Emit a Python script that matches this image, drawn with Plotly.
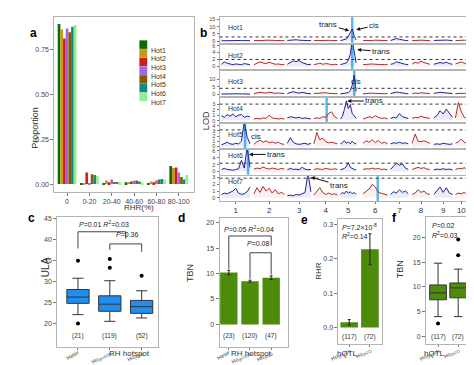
import plotly.graph_objects as go
import numpy as np

W, H = 474, 365
def PX(x): return x / W
def PY(y): return 1 - y / H
FONT = "Arial, 'Liberation Sans', sans-serif"

# ---------------- data ----------------
# panel a
rhr_bins = ["0", "0-20", "20-40", "40-60", "60-80", "80-100"]
hot_names = ["Hot1", "Hot2", "Hot3", "Hot4", "Hot5", "Hot6", "Hot7"]
hot_colors = ["#0a6b0a", "#c9960c", "#cc2020", "#9b6ae8", "#8b5a00", "#0f8a8a", "#8ef08e"]
prop_hot1 = [0.890, 0.004, 0.004, 0.010, 0.005, 0.100]
prop_hot2 = [0.860, 0.004, 0.020, 0.012, 0.015, 0.090]
prop_hot3 = [0.810, 0.065, 0.010, 0.015, 0.010, 0.092]
prop_hot4 = [0.865, 0.003, 0.025, 0.018, 0.020, 0.065]
prop_hot5 = [0.845, 0.055, 0.012, 0.020, 0.025, 0.040]
prop_hot6 = [0.875, 0.050, 0.012, 0.015, 0.028, 0.025]
prop_hot7 = [0.885, 0.045, 0.010, 0.010, 0.025, 0.050]
prop_all = [prop_hot1, prop_hot2, prop_hot3, prop_hot4, prop_hot5, prop_hot6, prop_hot7]

# panel b (map positions per chromosome, LOD profiles)
chrom_labels = ["1", "2", "3", "4", "5", "6", "7", "8", "9", "10"]
chrom_start = [2, 35, 69, 96, 123, 146, 174, 196, 218, 240]
chrom_end = [31, 66, 93, 120, 139, 171, 192, 214, 237, 252]
lod_hot1 = [[0.4,0.5,0.4,0.6,0.5,0.4,0.5,0.6,0.5,0.7,0.5],
            [0.5,0.7,0.9,0.6,0.8,1.0,0.7,0.6,0.8,0.6,0.5],
            [0.6,0.9,1.3,1.1,0.8,0.6,0.7,0.5,0.6],
            [0.5,0.6,0.8,0.6,0.9,0.7,0.6,0.8,0.5],
            [0.5,0.7,1.0,1.6,3.2,5.5,8.5,3.5,1.0],
            [0.6,0.5,0.7,0.6,0.8,0.6,0.5,0.6,0.5],
            [0.6,1.3,1.9,1.4,0.8,0.6,0.5],
            [0.5,0.7,0.6,0.8,0.7,0.6,0.5],
            [0.6,0.8,1.1,0.8,0.9,0.6,0.5],
            [0.5,0.7,0.6,0.8,0.5]]
lod_hot2 = [[0.6,1.3,0.9,0.6,0.5,0.7,0.6,0.5,0.8,0.6,0.5],
            [0.5,0.9,1.3,1.0,0.8,1.2,0.9,0.6,0.7,0.5,0.6],
            [0.6,1.0,1.6,1.4,1.7,1.1,0.7,0.5,0.6],
            [0.5,0.7,0.9,0.6,0.8,0.7,0.5,0.6,0.5],
            [0.5,0.6,0.8,1.0,1.8,3.5,7.5,4.0,1.0],
            [0.5,0.6,0.5,0.7,0.6,0.5,0.6,0.5,0.6],
            [0.6,0.8,1.3,1.0,0.7,0.6,0.5],
            [0.7,1.2,0.9,1.5,1.1,0.8,0.6],
            [0.6,0.8,1.1,0.9,1.2,0.8,0.6],
            [0.7,1.0,1.3,0.9,0.6]]
lod_hot3 = [[0.3,0.4,0.5,0.4,0.3,0.4,0.5,0.4,0.3,0.4,0.3],
            [0.6,1.0,1.4,1.2,0.9,1.5,1.1,0.8,1.0,0.7,0.6],
            [0.7,1.2,1.8,1.3,0.9,1.4,0.8,0.6,0.5],
            [0.6,0.8,1.1,0.9,1.2,0.8,0.6,0.7,0.5],
            [0.4,0.5,0.6,0.8,1.2,2.5,6.0,12.5,2.0],
            [0.5,0.7,0.6,0.9,0.7,0.5,0.6,0.5,0.6],
            [0.6,1.1,1.6,1.3,0.9,0.7,0.6],
            [0.6,0.9,0.7,1.1,0.9,0.7,0.6],
            [0.7,1.0,1.4,1.2,0.9,0.8,0.6],
            [0.6,0.8,1.0,0.8,0.6]]
lod_hot4 = [[0.9,0.6,1.1,0.8,1.2,0.7,1.0,1.1,0.6,0.8,0.7],
            [0.3,0.4,0.3,0.5,0.4,1.0,0.5,0.4,0.3,0.4,0.3],
            [0.5,0.7,0.6,0.5,0.6,0.4,0.5,0.4,0.3],
            [0.4,0.5,0.4,0.7,0.6,1.3,1.6,0.7,0.4],
            [0.3,0.8,2.0,3.6,2.2,2.9,1.3,0.9,0.4],
            [0.3,0.5,0.7,0.5,0.9,0.6,0.4,0.5,0.3],
            [0.4,0.6,0.5,1.3,0.7,0.5,0.4],
            [0.4,0.6,0.5,0.8,0.6,0.5,0.4],
            [0.5,0.9,1.8,1.2,2.1,1.4,0.6],
            [0.5,3.3,1.6,0.6,0.4]]
lod_hot5 = [[0.3,0.5,0.8,0.5,0.4,0.6,0.5,1.0,4.8,1.8,0.5],
            [0.4,0.9,1.2,0.8,1.1,0.7,0.9,0.6,0.8,0.5,0.4],
            [0.6,1.7,0.8,0.5,0.4,0.5,0.6,0.4,0.6],
            [0.5,2.7,1.3,1.6,0.9,0.7,0.8,0.6,0.5],
            [0.5,0.7,1.1,0.6,0.9,0.5,1.0,0.6,0.5],
            [0.6,1.1,0.8,1.3,0.7,1.2,0.6,0.8,0.5],
            [0.5,0.7,0.6,0.8,0.6,0.7,0.5],
            [0.6,2.4,1.0,0.9,1.1,0.8,0.6],
            [0.4,0.5,0.4,0.6,0.5,0.4,0.5],
            [0.6,0.9,1.4,0.8,0.6]]
lod_hot6 = [[0.6,0.9,0.6,0.5,0.4,0.6,0.8,3.2,1.0,7.0,1.2],
            [0.7,1.0,0.8,1.3,0.9,0.7,1.0,0.8,0.6,0.9,0.7],
            [0.5,0.9,0.6,0.7,0.5,1.2,0.7,0.5,0.6],
            [0.6,0.8,0.7,0.6,0.9,0.7,0.6,0.8,0.6],
            [0.5,0.7,0.9,1.4,2.6,1.2,0.8,0.6,0.5],
            [0.6,0.8,0.7,1.0,0.7,0.9,0.6,0.7,0.5],
            [0.6,1.4,2.4,1.8,2.2,1.0,0.6],
            [0.6,0.8,1.2,0.9,1.1,0.7,0.6],
            [0.5,0.7,0.6,0.8,0.6,0.7,0.5],
            [0.6,0.9,0.8,1.1,0.7]]
lod_hot7 = [[0.5,0.7,0.6,0.8,1.0,1.4,0.7,0.5,0.6,0.9,1.6],
            [0.6,1.5,0.8,1.7,1.0,1.4,0.7,1.2,0.6,0.8,0.5],
            [0.3,0.4,0.3,0.5,0.4,0.6,0.8,3.6,0.9],
            [0.4,1.0,1.5,0.8,0.5,0.7,0.5,0.6,0.4],
            [0.5,0.8,0.6,1.0,0.7,0.9,0.6,0.8,0.5],
            [0.6,1.0,1.3,2.0,1.6,0.8,0.7,0.5,0.4],
            [0.5,0.9,0.7,1.2,0.8,1.0,0.6],
            [0.5,0.7,1.2,0.8,1.0,0.6,0.5],
            [0.5,1.0,1.6,0.8,1.5,0.7,0.5],
            [0.5,0.7,0.6,0.8,0.5]]
lod_all = [lod_hot1, lod_hot2, lod_hot3, lod_hot4, lod_hot5, lod_hot6, lod_hot7]
lod_thresh = [3.0, 2.0, 4.0, 3.0, 3.2, 2.4, 2.9]
hot_peak_pos = [135, 135, 137, 109, 26, 29, 161]
hot_strip = ["bin5.04", "bin5.04", "bin5.04", "bin4.05", "bin1.09", "bin1.10", "bin6.05"]
lod_ticks = [[0, 5, 10, 15], [0, 2, 4, 6], [0, 5, 10], [0, 1, 2, 3], [0, 1, 2, 3, 4], [0, 2, 4, 6], [0, 1, 2, 3]]

# panel c
rh_groups = ["Heter", "Ho<sub>(BY815)</sub>", "Ho<sub>(K22)</sub>"]
ula_q1 = [24.8, 22.9, 22.4]
ula_med = [26.3, 24.6, 24.0]
ula_q3 = [28.1, 26.6, 25.5]
ula_lo = [22.1, 20.5, 21.3]
ula_hi = [30.8, 30.2, 27.8]
ula_out_grp = [0, 0, 1, 1, 2]
ula_out_val = [35.0, 20.0, 33.3, 35.4, 31.4]
ula_n = ["(21)", "(119)", "(52)"]

# panel d
tbn_rh_mean = [10.2, 8.5, 9.2]
tbn_rh_err = [0.45, 0.2, 0.35]
tbn_rh_n = ["(23)", "(120)", "(47)"]

# panel e
hqtl_groups = ["Ho<sub>(BY815)</sub>", "Ho<sub>(K22)</sub>"]
rhr_mean = [0.015, 0.228]
rhr_err = [0.008, 0.045]
hqtl_n = ["(117)", "(72)"]

# panel f
tbn_q1 = [7.4, 7.8]
tbn_med = [8.8, 9.8]
tbn_q3 = [10.4, 10.8]
tbn_lo = [4.0, 4.0]
tbn_hi = [14.8, 13.6]
tbn_out_grp = [0, 1, 1]
tbn_out_val = [2.6, 16.4, 19.6]

# ---------------- figure ----------------
fig = go.Figure()
layout = {}
annotations = []
shapes = []

def axstyle(**kw):
    d = dict(showline=True, mirror=True, linecolor="#b4b4b4", linewidth=1,
             ticks="outside", ticklen=3, tickcolor="#777", tickwidth=1,
             tickfont=dict(size=7, color="#444", family=FONT),
             showgrid=False, zeroline=False, fixedrange=True)
    d.update(kw)
    return d

def text(x, y, s, size=7, color="#333", **kw):
    a = dict(x=PX(x), y=PY(y), xref="paper", yref="paper", text=s, showarrow=False,
             font=dict(size=size, color=color, family=FONT))
    a.update(kw)
    annotations.append(a)

SMALL_TICK = dict(size=5.5, color="#444", family=FONT)
ROT = dict(tickangle=-30, ticklen=2, tickfont=SMALL_TICK, ticklabelstandoff=-3)

# ---- panel a ----
for name, col, vals in zip(hot_names, hot_colors, prop_all):
    fig.add_trace(go.Bar(x=rhr_bins, y=vals, name=name, marker=dict(color=col, line=dict(width=0)),
                         xaxis="x", yaxis="y", showlegend=False))
layout["xaxis"] = axstyle(domain=[PX(39), PX(181)], anchor="y", type="category", range=[-0.57, 5.68])
layout["yaxis"] = axstyle(domain=[PY(184), PY(7)], anchor="x", range=[-0.044, 0.93],
                          tickvals=[0, 0.25, 0.5, 0.75], ticktext=["0.00", "0.25", "0.50", "0.75"])
for i, (name, col) in enumerate(zip(hot_names, hot_colors)):
    yc = 35 + i * 8.8
    shapes.append(dict(type="rect", xref="paper", yref="paper", x0=PX(125.5), x1=PX(133.5),
                       y0=PY(yc + 4.3), y1=PY(yc - 4.3), fillcolor=col, line=dict(width=0)))
    text(135, yc, name, size=7, xanchor="left")
text(12, 96, "Proportion", size=9, textangle=-90)
text(108, 200, "RHR(%)", size=8)
text(12, 14, "<b>a</b>", size=12, color="black")

# ---- panel b ----
b_dom = [(7, 33), (35, 60), (61.5, 87), (88.5, 113.5), (115, 140), (141.5, 166.5), (168, 193)]
b_range = [(-0.87, 16.6), (-0.86, 6.3), (-1, 15.3), (-0.3, 4.2), (-0.4, 4.4), (-0.9, 6.2), (-0.45, 3.2)]
chrom_center = [(s + e) / 2 for s, e in zip(chrom_start, chrom_end)]
for h in range(7):
    k = h + 2
    xa, ya = f"x{k}", f"y{k}"
    shapes.append(dict(type="line", xref=xa, yref=f"{ya} domain", x0=hot_peak_pos[h], x1=hot_peak_pos[h],
                       y0=0, y1=1, line=dict(color="#55bdf2", width=2.5), layer="below"))
    for c in range(10):
        vals = lod_all[h][c]
        pos = np.linspace(chrom_start[c], chrom_end[c], len(vals))
        blue = (c % 2 == 0)
        fig.add_trace(go.Scatter(x=pos, y=vals, mode="lines",
                                 line=dict(color="#22229a" if blue else "#b22a2a", width=1),
                                 fill="tozeroy",
                                 fillcolor="rgba(60,60,200,0.10)" if blue else "rgba(200,60,60,0.08)",
                                 xaxis=xa, yaxis=ya, showlegend=False, hoverinfo="skip"))
    shapes.append(dict(type="line", xref=f"{xa} domain", yref=ya, x0=0, x1=1,
                       y0=lod_thresh[h], y1=lod_thresh[h], line=dict(color="#333", width=1, dash="dot")))
    last = (h == 6)
    if last:
        layout[f"xaxis{k}"] = axstyle(domain=[PX(207), PX(462)], anchor=ya, range=[0, 255],
                                      tickvals=chrom_center, ticktext=chrom_labels, ticklen=2,
                                      tickfont=dict(size=8, color="#333", family=FONT))
    else:
        layout[f"xaxis{k}"] = axstyle(domain=[PX(207), PX(462)], anchor=ya, range=[0, 255],
                                      showticklabels=False, ticks="")
    layout[f"yaxis{k}"] = axstyle(domain=[PY(b_dom[h][1]), PY(b_dom[h][0])], anchor=xa,
                                  range=list(b_range[h]), tickvals=lod_ticks[h], ticklen=2,
                                  tickfont=dict(size=5.5, color="#444", family=FONT))
    text(214, b_dom[h][0] + 5.5, hot_names[h], size=7, color="#333", xanchor="left")
    shapes.append(dict(type="rect", xref="paper", yref="paper", x0=PX(462.5), x1=PX(471),
                       y0=PY(b_dom[h][1]), y1=PY(b_dom[h][0]), fillcolor="#cdcdcd", line=dict(width=0)))
    text(466.8, (b_dom[h][0] + b_dom[h][1]) / 2, hot_strip[h], size=5, color="#555", textangle=90)

arrows = [("trans", 318, 15, 339, 21), ("cis", 364, 16, 346, 20), ("trans", 371, 42, 347, 40),
          ("trans", 364, 92, 337, 92), ("trans", 264, 146, 237, 146), ("trans", 328, 177, 300, 169)]
for s, tx, ty, hx, hy in arrows:
    annotations.append(dict(x=PX(hx), y=PY(hy), xref="paper", yref="paper", text=s, showarrow=True,
                            ax=tx - hx, ay=ty - hy, arrowhead=2, arrowsize=0.8, arrowwidth=1,
                            arrowcolor="#111", font=dict(size=8, color="#222", family=FONT)))
text(353, 66, "cis", size=8, color="#222")
text(244, 121, "cis", size=8, color="#222")
text(194, 100, "LOD", size=9, textangle=-90)
text(191, 14, "<b>b</b>", size=12, color="black")

# ---- panel c ----
fig.add_trace(go.Box(x=rh_groups, q1=ula_q1, median=ula_med, q3=ula_q3, lowerfence=ula_lo,
                     upperfence=ula_hi, fillcolor="#1e8ff0", line=dict(color="#333", width=1),
                     width=0.7, boxpoints=False, xaxis="x9", yaxis="y9", showlegend=False))
fig.add_trace(go.Scatter(x=[rh_groups[g] for g in ula_out_grp], y=ula_out_val, mode="markers",
                         marker=dict(color="black", size=4), xaxis="x9", yaxis="y9", showlegend=False))
layout["xaxis9"] = axstyle(domain=[PX(42), PX(144)], anchor="y9", type="category",
                           range=[-0.65, 2.5], **ROT)
layout["yaxis9"] = axstyle(domain=[PY(341), PY(209)], anchor="x9", range=[14.3, 45.5],
                           tickvals=[20, 25, 30, 35, 40, 45])
for i, n in enumerate(ula_n):
    annotations.append(dict(x=i, y=16.9, xref="x9", yref="y9", text=n, showarrow=False,
                            font=dict(size=6.5, color="#333", family=FONT)))
br = "#444"
def bracket(xa, ya, pts):
    for (x0, y0, x1, y1) in pts:
        shapes.append(dict(type="line", xref=xa, yref=ya, x0=x0, y0=y0, x1=x1, y1=y1,
                           line=dict(color=br, width=1)))
bracket("x9", "y9", [(0, 37.9, 0, 41.9), (0, 41.9, 1.5, 41.9), (1.5, 41.9, 1.5, 40.2),
                     (1, 37.6, 1, 39.0), (1, 39.0, 2, 39.0), (2, 39.0, 2, 37.1)])
annotations.append(dict(x=0.83, y=43.7, xref="x9", yref="y9", text="<i>P</i>=0.01 <i>R</i><sup>2</sup>=0.03",
                        showarrow=False, font=dict(size=7, color="#222", family=FONT)))
annotations.append(dict(x=1.54, y=41.2, xref="x9", yref="y9", text="<i>P</i>=0.36",
                        showarrow=False, font=dict(size=7, color="#222", family=FONT)))
text(22, 272, "ULA", size=10, textangle=-90)
text(93, 354, "RH hotspot", size=8)
text(10, 210, "<b>c</b>", size=12, color="black")

# ---- panel d ----
fig.add_trace(go.Bar(x=rh_groups, y=tbn_rh_mean, width=0.82, marker=dict(color="#4c8c0a", line=dict(width=0)),
                     error_y=dict(type="data", array=tbn_rh_err, color="#222", thickness=1, width=1.5),
                     xaxis="x10", yaxis="y10", showlegend=False))
layout["xaxis10"] = axstyle(domain=[PX(207), PX(277)], anchor="y10", type="category",
                            range=[-0.44, 2.81], **ROT)
layout["yaxis10"] = axstyle(domain=[PY(341), PY(210)], anchor="x10", range=[-4.5, 21],
                            tickvals=[0, 5, 10, 15, 20])
for i, n in enumerate(tbn_rh_n):
    annotations.append(dict(x=i, y=-2.3, xref="x10", yref="y10", text=n, showarrow=False,
                            font=dict(size=6.5, color="#333", family=FONT)))
bracket("x10", "y10", [(0, 10.9, 0, 17.4), (0, 17.4, 2, 17.4), (2, 17.4, 2, 15.5),
                       (1, 9.0, 1, 14.1), (1, 14.1, 2, 14.1), (2, 14.1, 2, 9.8)])
annotations.append(dict(x=0.95, y=18.8, xref="x10", yref="y10", text="<i>P</i>=0.05 <i>R</i><sup>2</sup>=0.04",
                        showarrow=False, font=dict(size=7, color="#222", family=FONT)))
annotations.append(dict(x=1.4, y=16.0, xref="x10", yref="y10", text="<i>P</i>=0.08",
                        showarrow=False, font=dict(size=7, color="#222", family=FONT)))
text(177, 277, "TBN", size=9, textangle=-90)
text(240, 354, "RH hotspot", size=8)
text(168, 210, "<b>d</b>", size=12, color="black")

# ---- panel e ----
fig.add_trace(go.Bar(x=hqtl_groups, y=rhr_mean, width=0.85, marker=dict(color="#4c8c0a", line=dict(width=0)),
                     error_y=dict(type="data", array=rhr_err, color="#222", thickness=1, width=1.5),
                     xaxis="x11", yaxis="y11", showlegend=False))
layout["xaxis11"] = axstyle(domain=[PX(328), PX(372)], anchor="y11", type="category",
                            range=[-0.52, 1.57], **ROT)
layout["yaxis11"] = axstyle(domain=[PY(338), PY(211)], anchor="x11", range=[-0.049, 0.317],
                            tickvals=[0, 0.1, 0.2, 0.3], ticktext=["0.0", "0.1", "0.2", "0.3"])
for i, n in enumerate(hqtl_n):
    annotations.append(dict(x=i, y=-0.029, xref="x11", yref="y11", text=n, showarrow=False,
                            font=dict(size=6.5, color="#333", family=FONT)))
text(330, 219, "<i>P</i>=7.2×10<sup>-8</sup>", size=7, color="#222", xanchor="left")
text(330, 228, "<i>R</i><sup>2</sup>=0.14", size=7, color="#222", xanchor="left")
text(308, 275, "RHR", size=8, textangle=-90)
text(350, 354, "hQTL", size=8)
text(293, 212, "<b>e</b>", size=12, color="black")

# ---- panel f ----
fig.add_trace(go.Box(x=hqtl_groups, q1=tbn_q1, median=tbn_med, q3=tbn_q3, lowerfence=tbn_lo,
                     upperfence=tbn_hi, fillcolor="#4c8c0a", line=dict(color="#333", width=1),
                     width=0.83, boxpoints=False, xaxis="x12", yaxis="y12", showlegend=False))
fig.add_trace(go.Scatter(x=[hqtl_groups[g] for g in tbn_out_grp], y=tbn_out_val, mode="markers",
                         marker=dict(color="black", size=4), xaxis="x12", yaxis="y12", showlegend=False))
layout["xaxis12"] = axstyle(domain=[PX(417), PX(468)], anchor="y12", type="category",
                            range=[-0.6, 1.89], **ROT)
layout["yaxis12"] = axstyle(domain=[PY(338), PY(209)], anchor="x12", range=[-1.6, 24.2],
                            tickvals=[0, 5, 10, 15, 20])
for i, n in enumerate(hqtl_n):
    annotations.append(dict(x=i, y=-0.2, xref="x12", yref="y12", text=n, showarrow=False,
                            font=dict(size=6.5, color="#333", family=FONT)))
text(421, 218, "<i>P</i>=0.02", size=7, color="#222", xanchor="left")
text(421, 227, "<i>R</i><sup>2</sup>=0.03", size=7, color="#222", xanchor="left")
text(398, 273, "TBN", size=9, textangle=-90)
text(438, 354, "hQTL", size=8)
text(390, 210, "<b>f</b>", size=12, color="black")

fig.update_layout(width=W, height=H, margin=dict(l=0, r=0, t=0, b=0),
                  paper_bgcolor="white", plot_bgcolor="white", barmode="group", bargap=0.16,
                  bargroupgap=0, showlegend=False, font=dict(family=FONT),
                  annotations=annotations, shapes=shapes, **layout)
fig.write_html("out.html")
